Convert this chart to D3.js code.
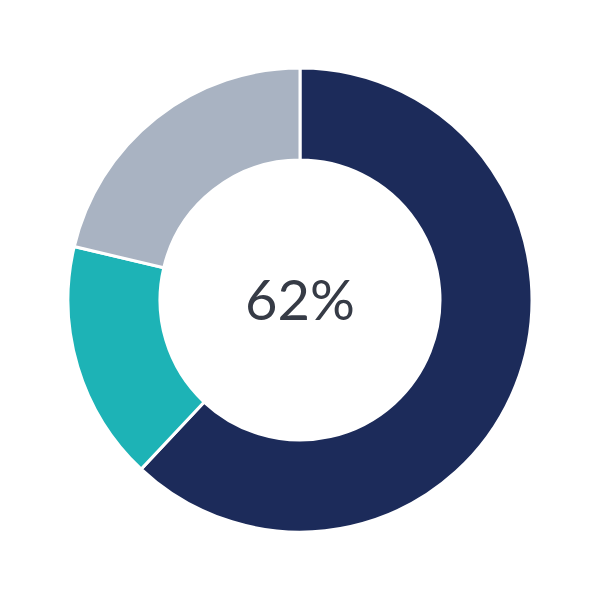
<!DOCTYPE html>
<html>
<head>
<meta charset="utf-8">
<script src="https://cdn.jsdelivr.net/npm/d3@7"></script>
<style>
  body { margin: 0; background: #fff; }
</style>
</head>
<body>
<div id="chart"></div>
<script>
// data
var labels = ["A", "B", "C"];
var values = [62, 16.7, 21.3];
var colors = ["#1c2b5a", "#1db3b6", "#a9b3c2"];
var centerLabel = "62%";

var width = 600, height = 600,
    outerR = 232, innerR = 140;

var svg = d3.select("#chart")
  .append("svg")
    .attr("width", width)
    .attr("height", height)
  .append("g")
    .attr("transform", "translate(" + 300 + "," + 300 + ")");

var pie = d3.pie()
    .sort(null)
    .value(function(d) { return d; });

var arc = d3.arc()
    .innerRadius(innerR)
    .outerRadius(outerR);

svg.selectAll("path")
    .data(pie(values))
    .enter()
  .append("path")
    .attr("d", arc)
    .attr("fill", function(d, i) { return colors[i]; })
    .attr("stroke", "#fff")
    .attr("stroke-width", 3);

svg.append("text")
    .attr("text-anchor", "middle")
    .attr("dy", "0.36em")
    .attr("font-family", "Lato, 'Open Sans', sans-serif")
    .attr("font-size", 56)
    .attr("fill", "#363b46")
    .text(centerLabel);
</script>
</body>
</html>
